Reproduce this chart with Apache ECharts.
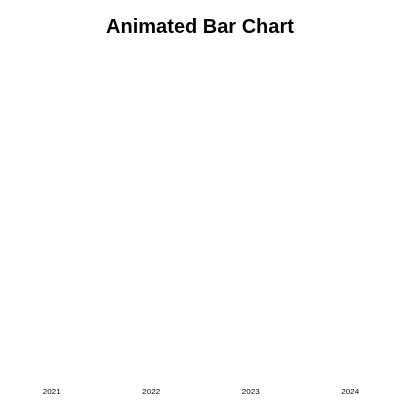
<!DOCTYPE html>
<html>
<head>
<meta charset="utf-8">
<script src="https://cdn.jsdelivr.net/npm/echarts@6/dist/echarts.min.js"></script>
<style>html,body{margin:0;padding:0;background:#fff}#main{width:400px;height:400px}</style>
</head>
<body>
<div id="main"></div>
<script>
var years = ['2021', '2022', '2023', '2024'];
var values = [0, 0, 0, 0];

var myChart = echarts.init(document.getElementById('main'));
var option = {
    animation: false,
    title: {
        text: 'Animated Bar Chart',
        left: 'center',
        top: 12,
        textStyle: { color: '#000', fontSize: 20, fontWeight: 'bold', fontFamily: 'Liberation Sans' }
    },
    grid: { left: 2, right: 0, top: 50, bottom: 18 },
    xAxis: {
        type: 'category',
        data: years,
        axisLine: { show: false },
        axisTick: { show: false },
        axisLabel: { color: '#000', fontSize: 8, fontFamily: 'Liberation Sans', margin: 6 }
    },
    yAxis: { type: 'value', show: false, min: 0, max: 100 },
    series: [{ type: 'bar', data: values, itemStyle: { color: '#4682b4' } }]
};
myChart.setOption(option);
</script>
</body>
</html>
